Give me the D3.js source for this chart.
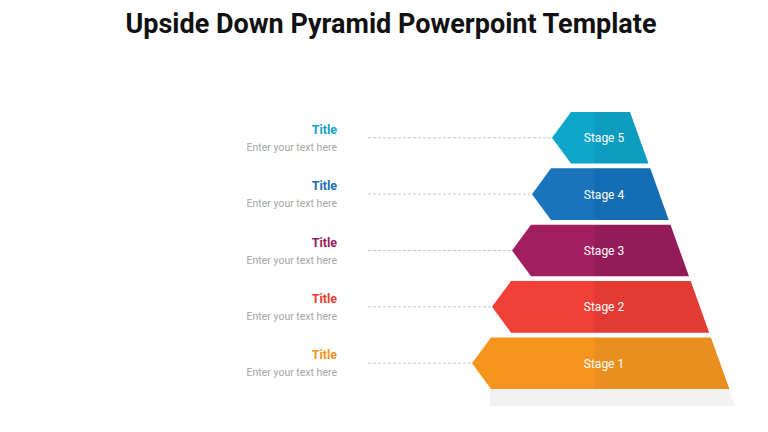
<!DOCTYPE html>
<html>
<head>
<meta charset="utf-8">
<script src="https://cdn.jsdelivr.net/npm/d3@7"></script>
<style>
  body { margin: 0; background: #fff; font-family: Roboto, "Noto Sans", sans-serif; }
</style>
</head>
<body>
<script>
var stages = ["Stage 5", "Stage 4", "Stage 3", "Stage 2", "Stage 1"];
var titles = ["Title", "Title", "Title", "Title", "Title"];
var subtitles = ["Enter your text here", "Enter your text here", "Enter your text here", "Enter your text here", "Enter your text here"];
var lightColors = ["#0ea6ca", "#1a74bb", "#a11f60", "#ef3f37", "#f7941e"];
var darkColors = ["#0b9cc0", "#146db3", "#941b59", "#e33b34", "#e98f20"];
var titleColors = ["#12a3c8", "#1a6fb4", "#9a1d5d", "#e83c35", "#f29321"];

var width = 768, height = 432;
var svg = d3.select("body").append("svg").attr("width", width).attr("height", height);

svg.append("text").attr("x", 391).attr("y", 33).attr("text-anchor", "middle")
  .attr("font-size", 27).attr("font-weight", "bold").attr("fill", "#111")
  .text("Upside Down Pyramid Powerpoint Template");

// vertical layout of the layers
var y = d3.scaleBand().domain(stages).range([112, 389]).paddingInner(0.085).paddingOuter(0);
// right slanted edge: x as a function of y
var rightX = d3.scaleLinear().domain([112, 385]).range([630, 728]);
// left edge steps out per stage
var leftX = d3.scaleLinear().domain([0, 4]).range([571, 491]);
var tip = 19, split = 595;

// shadow under the base
svg.append("path")
  .attr("d", "M490,387 L728,387 L735,406 L490,406 Z")
  .attr("fill", "#f2f2f2");

var g = svg.selectAll(".layer").data(stages).enter().append("g");

g.each(function(d, i) {
  var el = d3.select(this);
  var t = y(d), b = t + y.bandwidth(), m = (t + b) / 2;
  var l = leftX(i);
  el.append("path")
    .attr("d", "M" + l + "," + t + " L" + split + "," + t + " L" + split + "," + b +
      " L" + l + "," + b + " L" + (l - tip) + "," + m + " Z")
    .attr("fill", lightColors[i]);
  el.append("path")
    .attr("d", "M" + (split - 0.5) + "," + t + " L" + rightX(t) + "," + t + " L" + rightX(b) + "," + b +
      " L" + (split - 0.5) + "," + b + " Z")
    .attr("fill", darkColors[i]);
  el.append("text").attr("x", 604).attr("y", m + 4.5).attr("text-anchor", "middle")
    .attr("font-size", 12).attr("fill", "#fff").text(d);
  el.append("line").attr("x1", 368).attr("x2", l - tip).attr("y1", m).attr("y2", m)
    .attr("stroke", "#c8c8c8").attr("stroke-dasharray", "3,2").attr("stroke-width", 1);
  el.append("text").attr("x", 337).attr("y", t + 22).attr("text-anchor", "end")
    .attr("font-size", 12.5).attr("font-weight", "bold").attr("fill", titleColors[i]).text(titles[i]);
  el.append("text").attr("x", 337).attr("y", t + 39).attr("text-anchor", "end")
    .attr("font-size", 10.5).attr("fill", "#a6a6a6").text(subtitles[i]);
});
</script>
</body>
</html>
